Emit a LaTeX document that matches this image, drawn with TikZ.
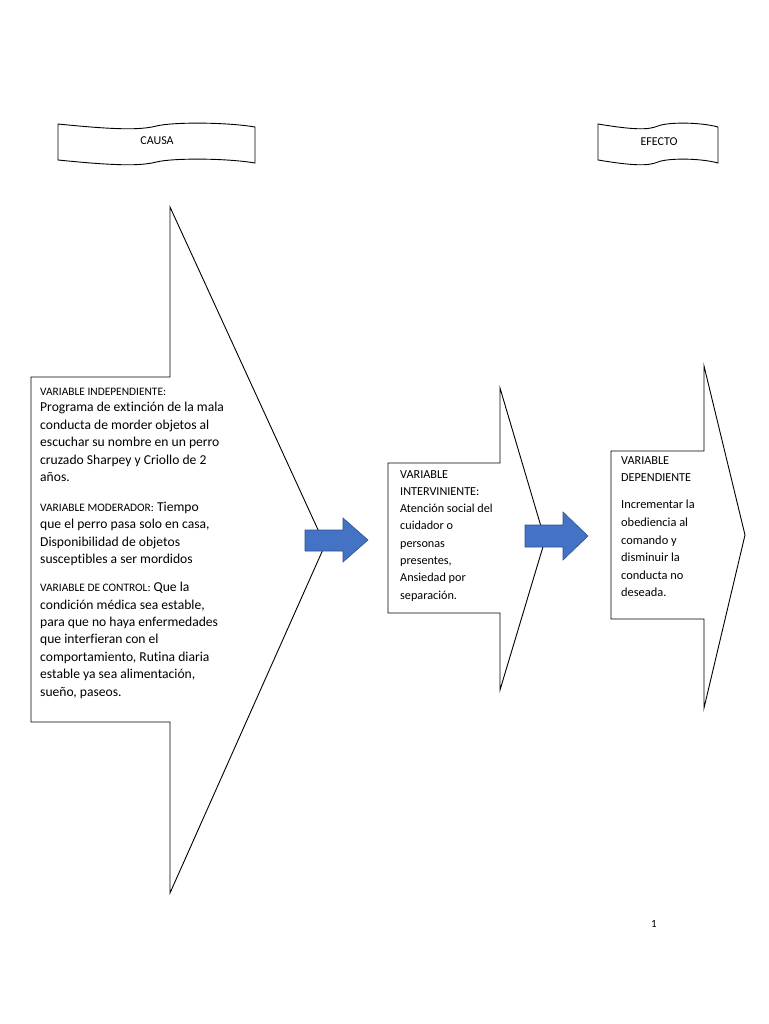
\documentclass[tikz,border=0pt]{standalone}
\usepackage{fontspec}
\setmainfont{Carlito}[Ligatures=NoCommon]
\newcommand\smallcaps{\fontsize{11.4}{13}\selectfont}
\begin{document}
\begin{tikzpicture}[x=1pt,y=-1pt,
  shp/.style={draw=black,line width=0.9pt,fill=white,line join=miter},
  blue/.style={fill=blueA,draw=blueB,line width=0.6pt},
  txt/.style={anchor=north west,align=left,inner sep=0pt,font=\fontsize{13.6}{17.4}\selectfont},
  lab/.style={font=\fontsize{12}{13}\selectfont}]
\definecolor{blueA}{HTML}{4472C4}
\definecolor{blueB}{HTML}{2F528F}
\useasboundingbox (0,0) rectangle (768,1024);
\newcommand\banner[4]{%
 \draw[shp] (#1,#2+2) .. controls ({#1+(#3-#1)*0.3},#2+8) and ({#1+(#3-#1)*0.42},#2+8) .. ({#1+(#3-#1)*0.5},#2+4)
   .. controls ({#1+(#3-#1)*0.58},#2) and ({#1+(#3-#1)*0.85},#2) .. (#3,#2+5)
   -- (#3,#4-2) .. controls ({#1+(#3-#1)*0.85},#4-7) and ({#1+(#3-#1)*0.58},#4-7) .. ({#1+(#3-#1)*0.5},#4-3)
   .. controls ({#1+(#3-#1)*0.42},#4+1) and ({#1+(#3-#1)*0.3},#4+1) .. (#1,#4-5) -- cycle;}
\banner{58}{122}{255}{165}
\banner{598}{122}{718}{165}
\node[lab] (causa) at (157,141) {CAUSA};
\node[lab] (efecto) at (659,142) {EFECTO};
\draw[shp] (31,377) -- (170,377) -- (170,207) -- (325,545) -- (170,893) -- (170,722) -- (31,722) -- cycle;
\draw[shp] (388,463) -- (500,463) -- (500,388) -- (545,540) -- (500,690) -- (500,613) -- (388,613) -- cycle;
\draw[shp] (611,451) -- (704,451) -- (704,366) -- (745,535) -- (704,708) -- (704,619) -- (611,619) -- cycle;
\draw[blue] (305,530) -- (343,530) -- (343,518) -- (368,540) -- (343,562) -- (343,551) -- (305,551) -- cycle;
\draw[blue] (525,525) -- (563,525) -- (563,512) -- (588,536) -- (563,560) -- (563,547) -- (525,547) -- cycle;
\node[txt] (vi) at (40,388) {{\smallcaps VARIABLE INDEPENDIENTE:}\\[-1pt]
Programa de extinción de la mala\\ conducta de morder objetos al\\ escuchar su nombre en un perro\\ cruzado Sharpey y Criollo de 2\\ años.};
\node[txt] (vm) at (40,502) {{\smallcaps VARIABLE MODERADOR:} Tiempo\\ que el perro pasa solo en casa,\\ Disponibilidad de objetos\\ susceptibles a ser mordidos};
\node[txt] (vc) at (40,582) {{\smallcaps VARIABLE DE CONTROL:} Que la\\ condición médica sea estable,\\ para que no haya enfermedades\\ que interfieran con el\\ comportamiento, Rutina diaria\\ estable ya sea alimentación,\\ sueño, paseos.};
\node[txt,font=\fontsize{12.2}{17.3}\selectfont] (vint) at (400,470) {VARIABLE\\ INTERVINIENTE:\\ Atención social del\\ cuidador o\\ personas\\ presentes,\\ Ansiedad por\\ separación.};
\node[txt,font=\fontsize{12.2}{17.3}\selectfont] (vd) at (621,456) {VARIABLE\\ DEPENDIENTE};
\node[txt,font=\fontsize{12.4}{17.6}\selectfont] (vd2) at (621,500) {Incrementar la\\ obediencia al\\ comando y\\ disminuir la\\ conducta no\\ deseada.};
\node[font=\fontsize{11}{12}\selectfont] (pg) at (654,924) {1};
\end{tikzpicture}
\end{document}
